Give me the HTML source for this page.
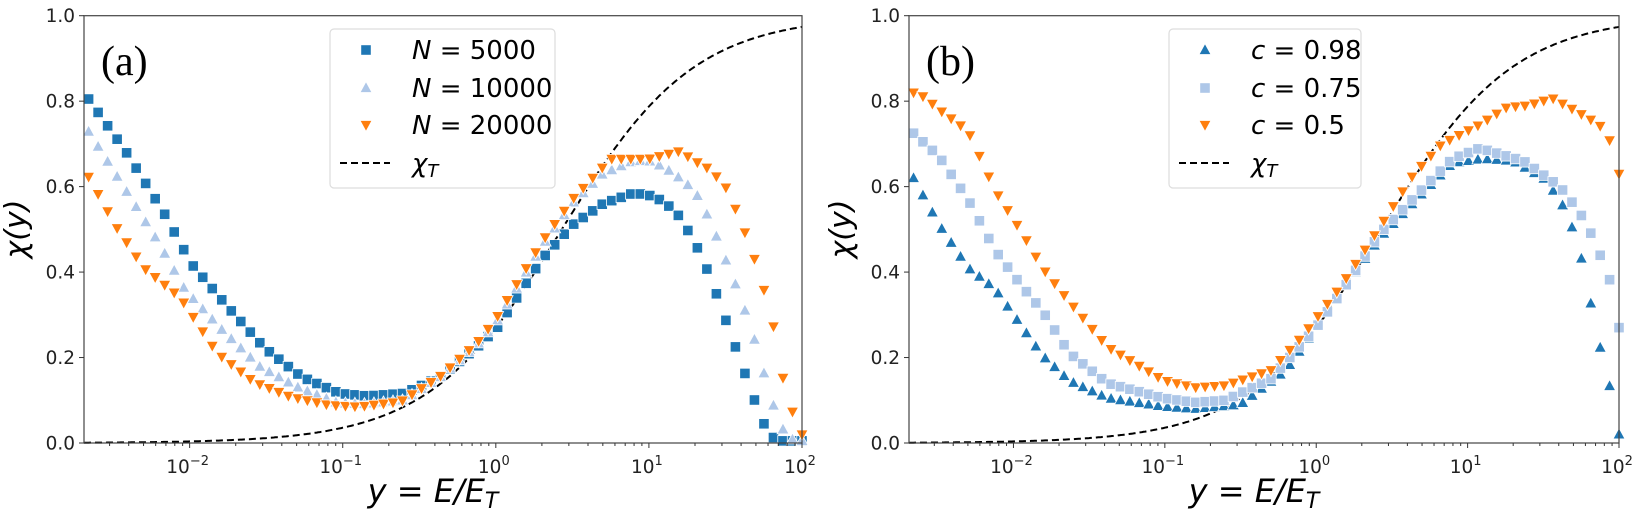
<!DOCTYPE html>
<html><head><meta charset="utf-8"><style>
html,body{margin:0;padding:0;background:#fff;}
svg{display:block;}
</style></head><body>
<svg id="s" width="1650" height="517" xmlns="http://www.w3.org/2000/svg" font-family="DejaVu Sans, Liberation Sans, sans-serif"></svg>
<script>
const S=document.getElementById('s');
let out='';
const Y0=443,YS=427.3,LMIN=-2.69;
function interp(pts,l){if(l<=pts[0][0])return pts[0][1];for(let i=1;i<pts.length;i++){if(l<=pts[i][0]){const a=pts[i-1],b=pts[i];return a[1]+(b[1]-a[1])*(l-a[0])/(b[0]-a[0]);}}return pts[pts.length-1][1];}
function chiT(l){const y=Math.pow(10,l);return y/(y+2.7);}
function panel(x0,x1,series,leg,lab){
  const dec=(x1-x0)/(2-LMIN);
  const X=l=>x0+(l-LMIN)*dec, Yv=v=>Y0-v*YS;
  let d='';for(let l=LMIN;l<=2.0001;l+=0.01){d+=(d?'L':'M')+X(l).toFixed(1)+','+Yv(chiT(l)).toFixed(1);}
  let body='<path d="'+d+'" fill="none" stroke="#000" stroke-width="2" stroke-dasharray="7,4"/>';
  for(const s of series){
    const n=75,st=-2.66,step=(2-st)/n;
    for(let k=0;k<=n;k++){const l=st+k*step;if(l<LMIN)continue;const v=interp(s.pts,l);body+=marker(s.m,X(l),Yv(v),s.c);}
  }
  out+='<clipPath id="c'+x0+'"><rect x="'+(x0-6)+'" y="10" width="'+(x1-x0+12)+'" height="'+(Y0-10+6)+'"/></clipPath>';
  out+='<g clip-path="url(#c'+x0+')">'+body+'</g>';
  out+='<rect x="'+x0+'" y="15.7" width="'+(x1-x0)+'" height="'+(Y0-15.7)+'" fill="none" stroke="#444" stroke-width="1.2"/>';
  for(let i=0;i<=5;i++){const v=i*0.2,y=Yv(v);out+='<line x1="'+(x0-5)+'" x2="'+x0+'" y1="'+y+'" y2="'+y+'" stroke="#333"/>';out+='<text x="'+(x0-9)+'" y="'+(y+6.5)+'" font-size="18.5" text-anchor="end" fill="#222">'+v.toFixed(1)+'</text>';}
  for(let e=-3;e<=2;e++){for(let m=1;m<10;m++){const l=e+Math.log10(m);if(l<LMIN-1e-6||l>2.0001)continue;const x=X(l);out+='<line x1="'+x+'" x2="'+x+'" y1="'+Y0+'" y2="'+(Y0+(m==1?5:3))+'" stroke="#333"/>';if(m==1)out+='<text x="'+(x-2)+'" y="'+(Y0+30)+'" font-size="18.5" text-anchor="middle" fill="#222">10<tspan dy="-8" font-size="13">'+(e<0?'\u2212'+(-e):e)+'</tspan></text>';if(l>1.99)break;}}
  out+='<text x="'+(x0+17)+'" y="75" style="font-family:\'Liberation Serif\',serif" font-size="42" fill="#000">'+lab+'</text>';
  out+='<text transform="translate('+(x0-58)+',229) rotate(-90)" font-size="30" text-anchor="middle" font-style="italic" fill="#000">χ(y)</text>';
  out+='<text x="'+((x0+x1)/2-10)+'" y="502" font-size="32" text-anchor="middle" font-style="italic" fill="#000">y = E/E<tspan font-size="22" dy="6">T</tspan></text>';
  const lx=leg.x,lw=leg.w;
  out+='<rect x="'+lx+'" y="29" width="'+lw+'" height="159" rx="4" fill="#fff" fill-opacity="0.85" stroke="#ddd" stroke-width="1.2"/>';
  const rows=[50,88,125,163];
  series.forEach((s,i)=>{out+=marker(s.m,lx+36,rows[i],s.c);out+='<text x="'+(lx+82)+'" y="'+(rows[i]+9)+'" font-size="26" fill="#000"><tspan font-style="italic">'+s.v+'</tspan> = '+s.n+'</text>';});
  out+='<line x1="'+(lx+10)+'" x2="'+(lx+60)+'" y1="163" y2="163" stroke="#000" stroke-width="2" stroke-dasharray="7,4"/>';
  out+='<text x="'+(lx+82)+'" y="172" font-size="26" font-style="italic" fill="#000">χ<tspan font-size="18" dy="5">T</tspan></text>';
}
function marker(m,x,y,c){
  if(m=='s')return '<rect x="'+(x-5.2)+'" y="'+(y-5.2)+'" width="10.4" height="10.4" fill="'+c+'" stroke="#fff" stroke-width="0.8"/>';
  if(m=='^')return '<polygon points="'+x+','+(y-6.5)+' '+(x+6)+','+(y+4.5)+' '+(x-6)+','+(y+4.5)+'" fill="'+c+'" stroke="#fff" stroke-width="0.8"/>';
  return '<polygon points="'+x+','+(y+6.5)+' '+(x+6)+','+(y-4.5)+' '+(x-6)+','+(y-4.5)+'" fill="'+c+'" stroke="#fff" stroke-width="0.8"/>';
}
const B='#1f77b4',L='#aec7e8',O='#ff7f0e';
panel(84,802,[
 {m:'s',c:B,v:'N',n:'5000',pts:[[-2.66,0.805],[-2.42,0.684],[-2.17,0.54],[-1.99,0.42],[-1.75,0.318],[-1.51,0.222],[-1.27,0.155],[-1.02,0.116],[-0.84,0.11],[-0.6,0.116],[-0.36,0.155],[-0.12,0.225],[0.01,0.27],[0.3,0.43],[0.5,0.51],[0.7,0.56],[0.9,0.585],[1.0,0.58],[1.1,0.565],[1.2,0.53],[1.3,0.47],[1.4,0.39],[1.5,0.29],[1.6,0.19],[1.7,0.09],[1.78,0.02],[1.85,0.005],[2,0.005]]},
 {m:'^',c:L,v:'N',n:'10000',pts:[[-2.68,0.74],[-2.45,0.61],[-2.2,0.467],[-2.03,0.358],[-1.79,0.265],[-1.54,0.178],[-1.3,0.131],[-1.03,0.093],[-0.84,0.091],[-0.6,0.10],[-0.36,0.155],[-0.12,0.23],[0,0.28],[0.3,0.46],[0.5,0.56],[0.7,0.63],[0.9,0.66],[1.0,0.66],[1.1,0.645],[1.2,0.62],[1.3,0.59],[1.4,0.52],[1.5,0.43],[1.6,0.34],[1.7,0.23],[1.8,0.10],[1.9,0.01],[2,0.005]]},
 {m:'v',c:O,v:'N',n:'20000',pts:[[-2.66,0.623],[-2.48,0.506],[-2.3,0.41],[-2.06,0.34],[-1.82,0.21],[-1.58,0.143],[-1.34,0.108],[-1.09,0.089],[-0.9,0.085],[-0.62,0.097],[-0.36,0.157],[-0.12,0.235],[0,0.29],[0.3,0.47],[0.5,0.57],[0.75,0.665],[1.0,0.665],[1.2,0.683],[1.3,0.66],[1.4,0.64],[1.5,0.60],[1.6,0.52],[1.7,0.42],[1.8,0.30],[1.87,0.16],[1.93,0.08],[2,0.02]]}
],{x:330,w:225},'(a)');
panel(909,1619,[
 {m:'^',c:B,v:'c',n:'0.98',pts:[[-2.66,0.62],[-2.49,0.51],[-2.3,0.41],[-2.12,0.36],[-1.94,0.27],[-1.81,0.205],[-1.63,0.145],[-1.38,0.105],[-1.01,0.085],[-0.8,0.08],[-0.5,0.09],[-0.2,0.17],[0,0.27],[0.16,0.35],[0.42,0.48],[0.69,0.58],[0.9,0.655],[1.1,0.665],[1.3,0.66],[1.5,0.62],[1.61,0.57],[1.68,0.515],[1.74,0.45],[1.79,0.37],[1.85,0.26],[1.92,0.16],[1.98,0.07],[2,0.02]]},
 {m:'s',c:L,v:'c',n:'0.75',pts:[[-2.66,0.725],[-2.49,0.67],[-2.3,0.57],[-2.12,0.45],[-1.94,0.365],[-1.81,0.31],[-1.63,0.21],[-1.38,0.14],[-1.01,0.105],[-0.8,0.095],[-0.6,0.10],[-0.3,0.15],[0,0.27],[0.16,0.35],[0.42,0.49],[0.69,0.59],[0.9,0.665],[1.08,0.69],[1.37,0.66],[1.61,0.60],[1.73,0.545],[1.79,0.51],[1.84,0.47],[1.91,0.41],[1.97,0.35],[2,0.27]]},
 {m:'v',c:O,v:'c',n:'0.5',pts:[[-2.66,0.82],[-2.59,0.81],[-2.49,0.78],[-2.3,0.73],[-2.12,0.59],[-1.94,0.49],[-1.81,0.41],[-1.63,0.33],[-1.38,0.225],[-1.01,0.147],[-0.8,0.13],[-0.6,0.135],[-0.3,0.17],[-0.09,0.25],[0.16,0.365],[0.42,0.505],[0.64,0.627],[0.83,0.70],[1.08,0.745],[1.26,0.786],[1.4,0.79],[1.56,0.807],[1.7,0.78],[1.87,0.745],[1.99,0.68],[2,0.63]]}
],{x:1169,w:192},'(b)');
S.innerHTML=out;
</script>
</body></html>
